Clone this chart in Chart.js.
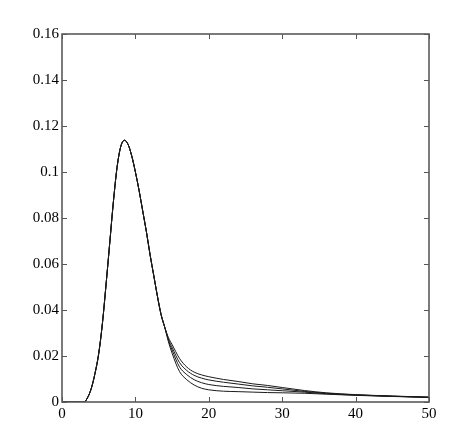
<!DOCTYPE html>
<html>
<head>
<meta charset="utf-8">
<script src="https://cdn.jsdelivr.net/npm/chart.js@4"></script>
<style>
  html, body { margin: 0; padding: 0; background: #fff; }
  #wrap { width: 474px; height: 440px; }
</style>
</head>
<body>
<div id="wrap"><canvas id="pdfChart" width="474" height="440"></canvas></div>
<script>
// Valeurs
var xValues = [0, 2, 3, 3.5, 4, 4.5, 5, 5.5, 6, 6.5, 7, 7.5, 8, 8.5, 9, 9.5, 10, 10.5, 11, 11.5,
  12, 12.5, 13, 13.5, 14,
  14.5, 15, 16, 17, 18, 19, 20, 22, 24, 26, 28, 30, 33, 36, 40, 45, 50];

// partie commune aux quatre courbes (x = 0 .. 14)
var headValues = [0, 0, 0, 0.002, 0.006, 0.0125, 0.021, 0.034, 0.051, 0.069, 0.087, 0.102, 0.111,
  0.1138, 0.112, 0.107, 0.100, 0.092, 0.083, 0.074, 0.064, 0.055, 0.046, 0.038, 0.0325];

// queues (x = 14.5 .. 50)
var tailA = [0.0280, 0.0250, 0.0190, 0.0152, 0.0130, 0.0118, 0.0110, 0.0098, 0.0089, 0.0079, 0.0072, 0.0063, 0.0050, 0.0040, 0.0032, 0.0026, 0.0021];
var tailB = [0.0274, 0.0238, 0.0172, 0.0137, 0.0116, 0.0104, 0.0096, 0.0086, 0.0078, 0.0070, 0.0064, 0.0057, 0.0046, 0.0038, 0.0031, 0.0025, 0.0021];
var tailC = [0.0268, 0.0226, 0.0153, 0.0119, 0.0097, 0.0084, 0.0076, 0.0068, 0.0063, 0.0057, 0.0053, 0.0049, 0.0043, 0.0036, 0.0030, 0.0025, 0.0020];
var tailD = [0.0262, 0.0212, 0.0133, 0.0097, 0.0074, 0.0060, 0.0053, 0.0047, 0.0045, 0.0043, 0.0041, 0.0040, 0.0038, 0.0034, 0.0029, 0.0024, 0.0020];

var xTicks = [0, 10, 20, 30, 40, 50];
var xTickLabels = ['0', '10', '20', '30', '40', '50'];
var yTicks = [0, 0.02, 0.04, 0.06, 0.08, 0.1, 0.12, 0.14, 0.16];
var yTickLabels = ['0', '0.02', '0.04', '0.06', '0.08', '0.1', '0.12', '0.14', '0.16'];

function makePoints(tail) {
  var ys = headValues.concat(tail);
  return xValues.map(function (x, i) {
    return { x: x, y: ys[i] };
  });
}

function makeDataset(tail) {
  return {
    data: makePoints(tail),
    borderColor: '#1a1a1a',
    borderWidth: 1,
    pointRadius: 0,
    fill: false,
    cubicInterpolationMode: 'monotone'
  };
}

// cadre + graduations vers l'intérieur (style matlab)
var framePlugin = {
  id: 'frame',
  afterDatasetsDraw: function (chart) {
    var ctx = chart.ctx;
    var area = chart.chartArea;
    var xs = chart.scales.x;
    var ys = chart.scales.y;
    var len = 5;
    ctx.save();
    ctx.strokeStyle = '#555';
    ctx.lineWidth = 1;
    ctx.beginPath();
    xTicks.forEach(function (v) {
      var px = Math.round(xs.getPixelForValue(v)) + 0.5;
      ctx.moveTo(px, area.bottom);
      ctx.lineTo(px, area.bottom - len);
      ctx.moveTo(px, area.top);
      ctx.lineTo(px, area.top + len);
    });
    yTicks.forEach(function (v) {
      var py = Math.round(ys.getPixelForValue(v)) + 0.5;
      ctx.moveTo(area.left, py);
      ctx.lineTo(area.left + len, py);
      ctx.moveTo(area.right, py);
      ctx.lineTo(area.right - len, py);
    });
    ctx.stroke();
    ctx.lineWidth = 1.6;
    ctx.strokeStyle = '#5a5a5a';
    ctx.strokeRect(area.left, area.top, area.right - area.left, area.bottom - area.top);
    ctx.restore();
  }
};

Chart.defaults.font.family = '"Liberation Serif", "DejaVu Serif", serif';
Chart.defaults.font.size = 15;
Chart.defaults.color = '#000';

document.addEventListener('DOMContentLoaded', function () {
  var ctx = document.getElementById('pdfChart').getContext('2d');
  new Chart(ctx, {
    type: 'line',
    data: {
      datasets: [makeDataset(tailA), makeDataset(tailB), makeDataset(tailC), makeDataset(tailD)]
    },
    options: {
      responsive: false,
      animation: false,
      layout: {
        padding: { top: 34, right: 45, left: 0, bottom: 0 }
      },
      plugins: {
        legend: { display: false },
        tooltip: { enabled: false }
      },
      scales: {
        x: {
          type: 'linear',
          min: 0,
          max: 50,
          grid: { display: false, drawTicks: false },
          border: { display: false },
          afterBuildTicks: function (scale) {
            scale.ticks = xTicks.map(function (v) { return { value: v }; });
          },
          afterFit: function (scale) { scale.height = 38; },
          ticks: {
            padding: 3,
            maxRotation: 0,
            callback: function (v) {
              var i = xTicks.indexOf(v);
              return i >= 0 ? xTickLabels[i] : '';
            }
          }
        },
        y: {
          type: 'linear',
          min: 0,
          max: 0.16,
          grid: { display: false, drawTicks: false },
          border: { display: false },
          afterBuildTicks: function (scale) {
            scale.ticks = yTicks.map(function (v) { return { value: v }; });
          },
          afterFit: function (scale) { scale.width = 62; },
          ticks: {
            padding: 3,
            callback: function (v) {
              for (var i = 0; i < yTicks.length; i++) {
                if (Math.abs(yTicks[i] - v) < 1e-9) return yTickLabels[i];
              }
              return '';
            }
          }
        }
      }
    },
    plugins: [framePlugin]
  });
});
</script>
</body>
</html>
